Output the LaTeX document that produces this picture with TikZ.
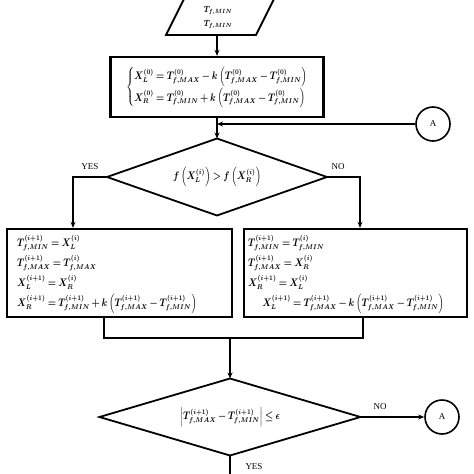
\documentclass[tikz,border=0pt]{standalone}
\usepackage{amsmath}
\usepackage{graphicx}
\usepackage{fontspec}
\setmainfont{Liberation Serif}
\usetikzlibrary{shapes.geometric,arrows.meta,calc}
\newcommand{\mfont}{\fontsize{10.5}{20}\selectfont\boldmath\medmuskip=3mu\thickmuskip=4mu}
\newcommand{\sq}[1]{\scalebox{0.84}[1]{#1}}
\begin{document}
\begin{tikzpicture}[x=1pt,y=-1pt,
  conn/.style={line width=1.2pt, -{Stealth[length=6pt,width=5pt]}},
  plain/.style={line width=1.2pt},
  proc/.style={draw, line width=2.4pt, inner sep=0pt},
  dec/.style={draw, diamond, line width=1.8pt, inner sep=0pt, outer sep=0pt, font=\mfont},
  conc/.style={draw, circle, line width=1.6pt, minimum size=34pt, inner sep=0pt, font=\fontsize{9}{10}\selectfont},
  lbl/.style={font=\fontsize{9}{10}\selectfont, inner sep=1pt},
  mth/.style={font=\mfont, inner sep=0pt}
]
\useasboundingbox (0,0) rectangle (474,474);
\clip (0,0) rectangle (474,474);

% input
\draw[line width=1.8pt] (166,35) -- (256,35) -- (275,-3) -- (185,-3) -- cycle;
\node[inner sep=0pt, align=center, font=\fontsize{9}{14}\selectfont\boldmath] (inp) at (218,17) {\sq{$T_{f{,}MIN}$}\\\sq{$T_{f{,}MIN}$}};
\coordinate (pin) at (217,35);

% init box
\node[proc, minimum width=213pt, minimum height=60pt] (b1) at (217,87) {};
\node[mth] (t1) at (b1.center) {\sq{$\left\{\begin{array}{@{}l@{}}
X_L^{(0)} = T_{f{,}MAX}^{(0)} - k\left(T_{f{,}MAX}^{(0)} - T_{f{,}MIN}^{(0)}\right)\\
X_R^{(0)} = T_{f{,}MIN}^{(0)} + k\left(T_{f{,}MAX}^{(0)} - T_{f{,}MIN}^{(0)}\right)
\end{array}\right.$}};

% decision 1
\node[dec, aspect=2.86, minimum width=220pt, minimum height=77pt] (d1) at (217,177) {\sq{$f\left(X_L^{(i)}\right) > f\left(X_R^{(i)}\right)$}};

% update boxes
\node[proc, minimum width=225pt, minimum height=88pt] (bl) at (119.5,273) {};
\node[proc, minimum width=223pt, minimum height=88pt] (br) at (355.5,273) {};
\node[mth, anchor=west] (tl) at (17,273) {\sq{$\begin{array}{@{}l@{}}
T_{f{,}MIN}^{(i+1)} = X_L^{(i)}\\
T_{f{,}MAX}^{(i+1)} = T_{f{,}MAX}^{(i)}\\
X_L^{(i+1)} = X_R^{(i)}\\
X_R^{(i+1)} = T_{f{,}MIN}^{(i+1)} + k\left(T_{f{,}MAX}^{(i+1)} - T_{f{,}MIN}^{(i+1)}\right)
\end{array}$}};
\node[mth, anchor=west] (tr) at (248,273) {\sq{$\begin{array}{@{}l@{}}
T_{f{,}MIN}^{(i+1)} = T_{f{,}MIN}^{(i)}\\
T_{f{,}MAX}^{(i+1)} = X_R^{(i)}\\
X_R^{(i+1)} = X_L^{(i)}\\
\hspace{17pt}X_L^{(i+1)} = T_{f{,}MAX}^{(i+1)} - k\left(T_{f{,}MAX}^{(i+1)} - T_{f{,}MIN}^{(i+1)}\right)
\end{array}$}};

% decision 2
\node[dec, aspect=3.39, minimum width=261pt, minimum height=77pt] (d2) at (230,417) {\sq{$\left|T_{f{,}MAX}^{(i+1)} - T_{f{,}MIN}^{(i+1)}\right| \le \epsilon$}};

% connectors
\node[conc] (a1) at (433,124) {A};
\node[conc] (a2) at (442,417) {A};

\draw[conn] (pin) -- (b1.north);
\draw[conn] (b1.south) -- (d1.north);
\draw[conn] (a1.west) -- (a1.west -| b1.south);

\coordinate (yl) at (73,177);
\coordinate (nr) at (360,177);
\draw[conn] (d1.west) -- (yl) -- (yl |- bl.north);
\draw[conn] (d1.east) -- (nr) -- (nr |- br.north);
\node[lbl] (yes1) at (90,167) {YES};
\node[lbl] (no1) at (338,167) {NO};

\coordinate (ml) at (104,338);
\coordinate (mr) at (363,338);
\coordinate (mm) at (230,338);
\draw[plain] (bl.south -| ml) -- (ml) -- (mr) -- (br.south -| mr);
\draw[conn] (mm) -- (d2.north);

\draw[conn] (d2.east) -- (a2.west);
\node[lbl] (no2) at (380,407) {NO};

\coordinate (fin) at (230,480);
\draw[plain] (d2.south) -- (fin);
\node[lbl] (yes2) at (254,467) {YES};
\end{tikzpicture}
\end{document}
